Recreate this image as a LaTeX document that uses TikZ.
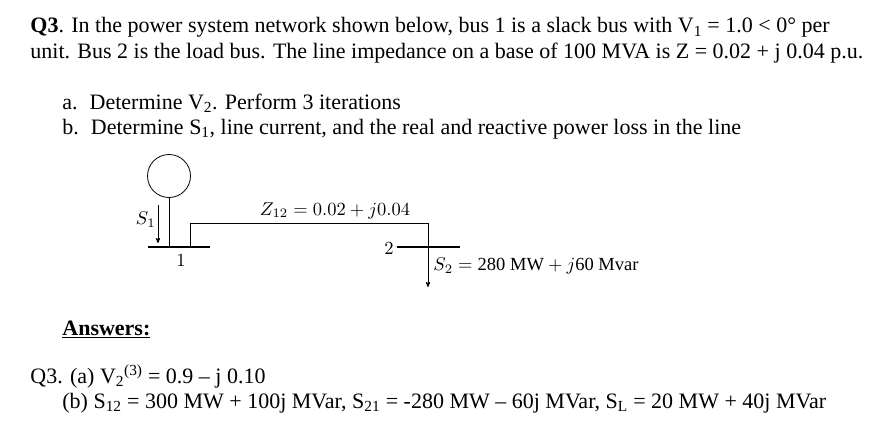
\documentclass[tikz,border=0pt]{standalone}
\usepackage{fontspec}
\setmainfont{Liberation Serif}
\usetikzlibrary{arrows}
\newcommand{\dg}[1]{\scalebox{1.85}{$#1$}}
\begin{document}
\begin{tikzpicture}[x=1pt,y=-1pt,>=stealth',thick,
    txt/.style={anchor=base west,inner sep=0pt,font=\fontsize{22}{26}\selectfont},
    lbl/.style={inner sep=0pt},
    busbar/.style={line width=1.6pt}]
      \useasboundingbox (0,0) rectangle (882,428);
      % question text
      \node [txt] (l1) at (30,33) {\textbf{Q3}. In the power system network shown below, bus 1 is a slack bus with V\textsubscript{1} = 1.0 < 0° per};
      \node [txt] (l2) at (30,58) {unit. Bus 2 is the load bus. The line impedance on a base of 100 MVA is Z = 0.02 + j 0.04 p.u.};
      \node [txt] (qa) at (62,109) {a.\hspace{12pt}Determine V\textsubscript{2}. Perform 3 iterations};
      \node [txt] (qb) at (62,134) {b.\hspace{12pt}Determine S\textsubscript{1}, line current, and the real and reactive power loss in the line};

      % network
      \node [draw,circle,minimum size=43pt,inner sep=0pt,name=gen] at (169,176) {};
      \coordinate (b1l) at (148,247);
      \coordinate (b1r) at (210,247);
      \coordinate (g1) at (169,247);
      \coordinate (t1) at (190,247);
      \coordinate (c1) at (190,223);
      \coordinate (c2) at (428,223);
      \coordinate (b2l) at (397,247);
      \coordinate (b2r) at (460,247);
      \coordinate (ld) at (428,287);
      \draw [busbar] (b1l) -- (b1r);
      \draw [busbar] (b2l) -- (b2r);
      \draw (gen) -- (g1);
      \draw (t1) -- (c1) -- (c2);
      \draw [->] (c2) -- (ld);
      \coordinate (s1a) at (158,205);
      \coordinate (s1b) at (158,243);
      \draw [->] (s1a) -- (s1b);
      \node [lbl,anchor=east] (s1) at (156,220) {\dg{S_1}};
      \node [lbl] (n1) at (181,261) {\dg{1}};
      \node [lbl,anchor=east] (n2) at (394,249) {\dg{2}};
      \node [lbl,anchor=south] (z12) at (335,219) {\dg{Z_{12}=0.02+j0.04}};
      \node [lbl,anchor=west] (s2) at (433,266) {\dg{S_2=\mathrm{280\ MW}+j\mathrm{60\ Mvar}}};

      % answers
      \node [txt] (ans) at (62,335) {\underline{\textbf{Answers:}}};
      \node [txt] (a1) at (30,383) {Q3. (a) V\textsubscript{2}\textsuperscript{(3)} = 0.9 – j 0.10};
      \node [txt] (a2) at (62,408) {(b) S\textsubscript{12} = 300 MW + 100j MVar, S\textsubscript{21} = -280 MW – 60j MVar, S\textsubscript{L} = 20 MW + 40j MVar};
\end{tikzpicture}
\end{document}
